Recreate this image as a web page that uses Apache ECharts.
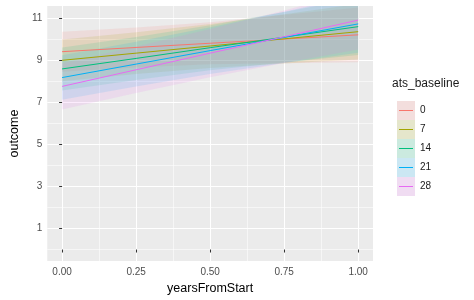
<!DOCTYPE html>
<html>
<head>
<meta charset="utf-8">
<script src="https://cdn.jsdelivr.net/npm/echarts@6/dist/echarts.min.js"></script>
<style>
  html, body { margin: 0; padding: 0; background: #fff; }
  #chart { width: 474px; height: 300px; }
</style>
</head>
<body>
<div id="chart"></div>
<script>
// values
var groups = ['0', '7', '14', '21', '28']
var colors = ['#F8766D', '#A3A500', '#00BF7D', '#00B0F6', '#E76BF3']
var xs = [0, 0.25, 0.5, 0.75, 1]

// fitted lines
var fit0 = [9.4, 9.6, 9.8, 10.0, 10.2]
var fit7 = [8.99, 9.33, 9.67, 10.01, 10.35]
var fit14 = [8.58, 9.08, 9.59, 10.09, 10.59]
var fit21 = [8.17, 8.81, 9.45, 10.08, 10.72]
var fit28 = [7.75, 8.54, 9.33, 10.11, 10.9]

// ribbons (lower / upper)
var lo0 = [8.45, 8.65, 8.8, 8.85, 8.9]
var hi0 = [10.35, 10.55, 10.8, 11.15, 11.5]
var lo7 = [8.0, 8.34, 8.63, 8.84, 9.03]
var hi7 = [9.98, 10.32, 10.71, 11.18, 11.67]
var lo14 = [7.56, 8.06, 8.52, 8.89, 9.24]
var hi14 = [9.6, 10.1, 10.66, 11.29, 11.94]
var lo21 = [7.11, 7.75, 8.34, 8.86, 9.35]
var hi21 = [9.23, 9.87, 10.56, 11.3, 12.09]
var lo28 = [6.65, 7.44, 8.18, 8.86, 9.5]
var hi28 = [8.85, 9.64, 10.48, 11.36, 12.3]

// axis ticks
var xTicks = [0, 0.25, 0.5, 0.75, 1]
var xMinor = [0.125, 0.375, 0.625, 0.875]
var yTicks = [1, 3, 5, 7, 9, 11]
var yMinor = [0, 2, 4, 6, 8, 10]

var fits = [fit0, fit7, fit14, fit21, fit28]
var los = [lo0, lo7, lo14, lo21, lo28]
var his = [hi0, hi7, hi14, hi21, hi28]

var bandAlpha = 0.13

function rgba(hex, a) {
  var n = parseInt(hex.slice(1), 16)
  return 'rgba(' + (n >> 16) + ',' + ((n >> 8) & 255) + ',' + (n & 255) + ',' + a + ')'
}
// legend key: ribbon fill over grey95
function keyFill(hex, a) {
  var n = parseInt(hex.slice(1), 16)
  var c = [n >> 16, (n >> 8) & 255, n & 255].map(function (v) { return Math.round(242 * (1 - a) + v * a) })
  return 'rgb(' + c.join(',') + ')'
}

// thin horizontal line in a 14x19 box (corner specks keep the box size)
var keyLine = 'path://M0,0 L0.01,0 L0.01,0.01 Z M0,9 L14,9 L14,10 L0,10 Z M14,19 L13.99,19 L13.99,18.99 Z'

var chart = echarts.init(document.getElementById('chart'))

var series = []
groups.forEach(function (g, k) {
  series.push({
    name: 'band' + g,
    type: 'custom',
    xAxisIndex: 0,
    yAxisIndex: 0,
    clip: true,
    silent: true,
    z: 1,
    encode: { x: 0, y: [1, 2] },
    data: xs.map(function (x, i) { return [x, los[k][i], his[k][i]] }),
    renderItem: function (params, api) {
      if (params.dataIndex !== 0) return
      var pts = []
      for (var i = 0; i < xs.length; i++) pts.push(api.coord([xs[i], his[k][i]]))
      for (var j = xs.length - 1; j >= 0; j--) pts.push(api.coord([xs[j], los[k][j]]))
      return {
        type: 'polygon',
        shape: { points: pts },
        style: { fill: rgba(colors[k], bandAlpha), stroke: null }
      }
    }
  })
})
groups.forEach(function (g, k) {
  series.push({
    name: g,
    type: 'line',
    xAxisIndex: 0,
    yAxisIndex: 0,
    symbol: 'none',
    z: 3,
    color: colors[k],
    lineStyle: { width: 1, color: colors[k] },
    data: xs.map(function (x, i) { return [x, fits[k][i]] })
  })
})

var tickStyle = { color: '#333333', width: 1 }

var option = {
  animation: false,
  textStyle: { fontFamily: 'Liberation Sans, Arial, sans-serif' },
  title: {
    text: 'ats_baseline',
    left: 392,
    top: 78,
    padding: 0,
    textStyle: { fontSize: 12, fontWeight: 'normal', color: '#1a1a1a', fontFamily: 'Liberation Sans, Arial, sans-serif' }
  },
  legend: [
    {
      orient: 'vertical',
      left: 392,
      top: 96,
      itemWidth: 18,
      itemHeight: 19,
      itemGap: 0,
      selectedMode: false,
      textStyle: { fontSize: 10, color: '#1a1a1a' },
      data: groups.map(function (g, k) {
        return { name: g, icon: 'rect', itemStyle: { color: keyFill(colors[k], 0.16) } }
      })
    },
    {
      orient: 'vertical',
      left: 394,
      top: 96,
      itemWidth: 14,
      itemHeight: 19,
      itemGap: 0,
      selectedMode: false,
      formatter: function () { return '' },
      textStyle: { fontSize: 10, color: 'rgba(0,0,0,0)' },
      data: groups.map(function (g, k) {
        return { name: g, icon: keyLine, itemStyle: { color: colors[k] } }
      })
    }
  ],
  grid: {
    left: 38,
    top: 6,
    right: 101,
    bottom: 37,
    show: true,
    backgroundColor: '#EBEBEB',
    borderWidth: 0
  },
  xAxis: [
    {
      type: 'value',
      min: -0.05,
      max: 1.05,
      name: 'yearsFromStart',
      nameLocation: 'middle',
      nameGap: 18,
      nameTextStyle: { fontSize: 12.5, color: '#000', verticalAlign: 'top' },
      axisLine: { show: false },
      axisTick: { show: true, length: 3, lineStyle: tickStyle, customValues: xTicks },
      axisLabel: {
        customValues: xTicks,
        fontSize: 10,
        color: '#4D4D4D',
        margin: 6,
        formatter: function (v) { return v.toFixed(2) }
      },
      splitLine: { show: true, lineStyle: { color: '#FFFFFF', width: 1.1 } }
    },
    {
      type: 'value',
      min: -0.05,
      max: 1.05,
      position: 'bottom',
      axisLine: { show: false },
      axisTick: { show: false, customValues: xMinor },
      axisLabel: { show: false, customValues: xMinor },
      splitLine: { show: true, lineStyle: { color: '#FFFFFF', width: 0.55 } }
    }
  ],
  yAxis: [
    {
      type: 'value',
      min: -0.55,
      max: 11.57,
      name: 'outcome',
      nameLocation: 'middle',
      nameGap: 22,
      nameTextStyle: { fontSize: 12.5, color: '#000' },
      axisLine: { show: false },
      axisTick: { show: true, length: 3, lineStyle: tickStyle, customValues: yTicks },
      axisLabel: { customValues: yTicks, fontSize: 10, color: '#4D4D4D', margin: 5 },
      splitLine: { show: true, lineStyle: { color: '#FFFFFF', width: 1.1 } }
    },
    {
      type: 'value',
      min: -0.55,
      max: 11.57,
      position: 'left',
      axisLine: { show: false },
      axisTick: { show: false, customValues: yMinor },
      axisLabel: { show: false, customValues: yMinor },
      splitLine: { show: true, lineStyle: { color: '#FFFFFF', width: 0.55 } }
    }
  ],
  series: series
}

chart.setOption(option)
</script>
</body>
</html>
